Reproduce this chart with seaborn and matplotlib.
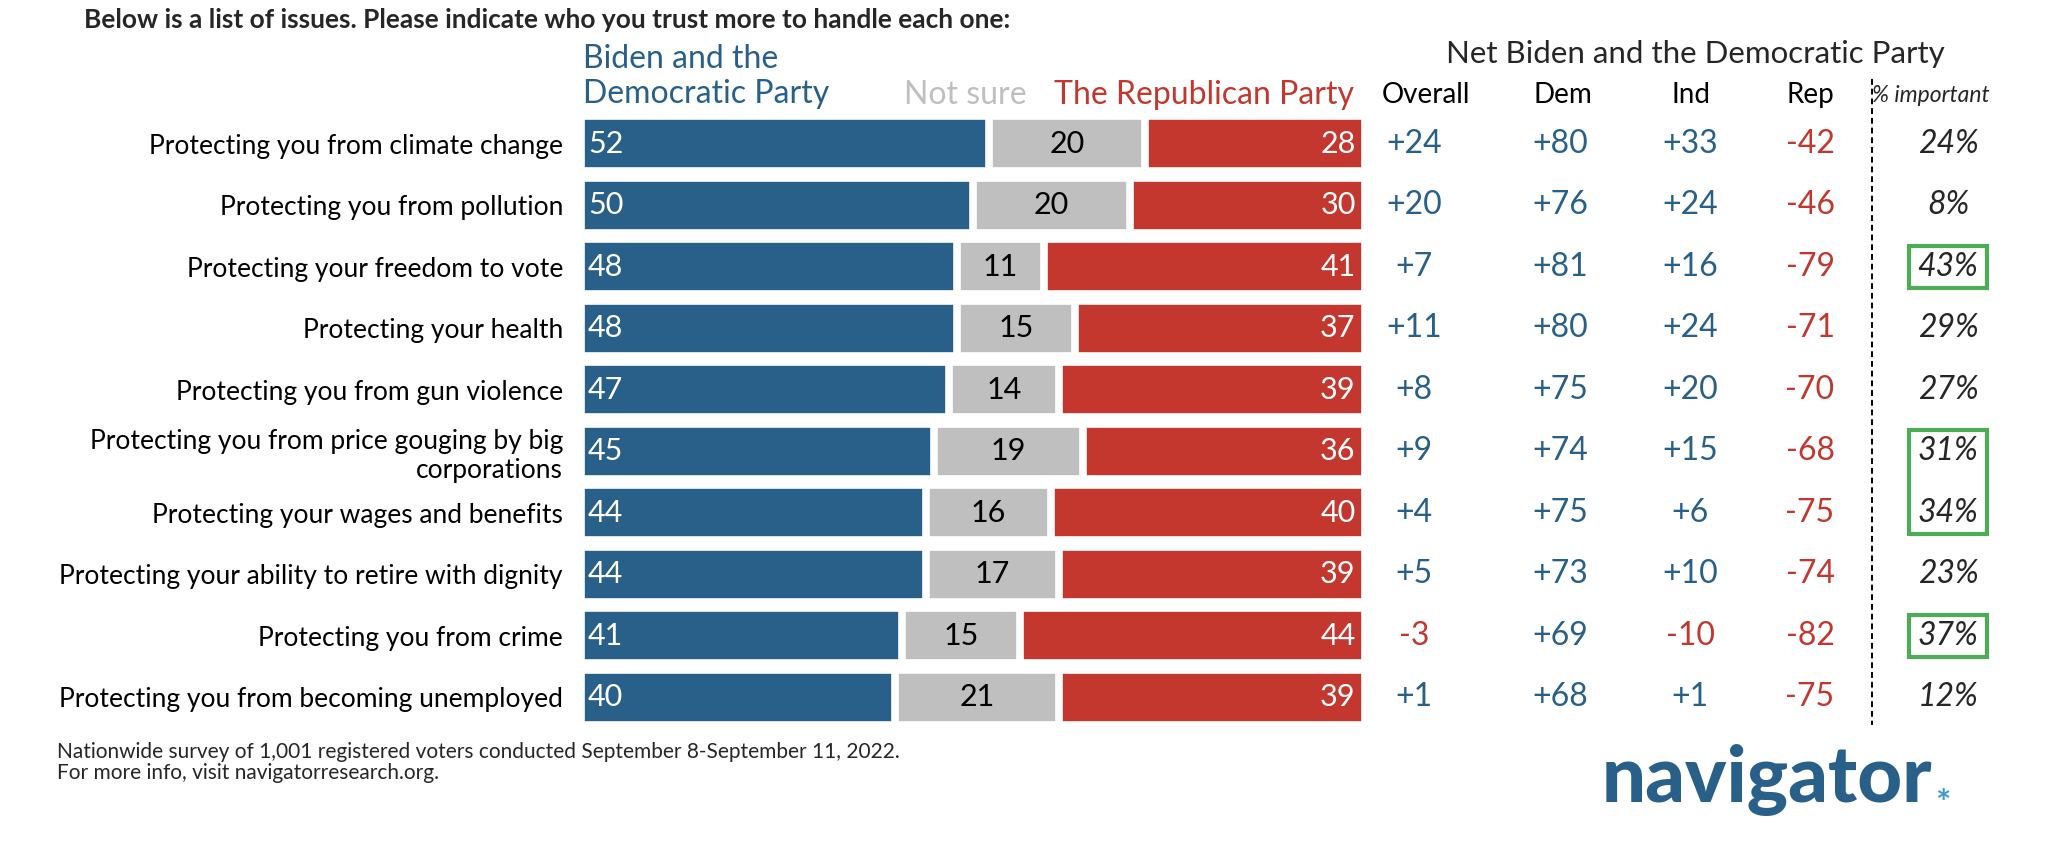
import matplotlib
matplotlib.use('Agg')
import matplotlib.pyplot as plt
import matplotlib.transforms as mtransforms
from matplotlib.patches import Rectangle
import seaborn as sns
import pandas as pd

issues = ['Protecting you from climate change',
          'Protecting you from pollution',
          'Protecting your freedom to vote',
          'Protecting your health',
          'Protecting you from gun violence',
          'Protecting you from price gouging by big\ncorporations',
          'Protecting your wages and benefits',
          'Protecting your ability to retire with dignity',
          'Protecting you from crime',
          'Protecting you from becoming unemployed']
biden = [52, 50, 48, 48, 47, 45, 44, 44, 41, 40]
not_sure = [20, 20, 11, 15, 14, 19, 16, 17, 15, 21]
republican = [28, 30, 41, 37, 39, 36, 40, 39, 44, 39]

net_overall = [24, 20, 7, 11, 8, 9, 4, 5, -3, 1]
net_dem = [80, 76, 81, 80, 75, 74, 75, 73, 69, 68]
net_ind = [33, 24, 16, 24, 20, 15, 6, 10, -10, 1]
net_rep = [-42, -46, -79, -71, -70, -68, -75, -74, -82, -75]
pct_important = [24, 8, 43, 29, 27, 31, 34, 23, 37, 12]
# groups of rows boxed in green (first row, last row)
boxed = [(2, 2), (5, 6), (8, 8)]

BLUE = '#28608a'
RED = '#c3372f'
GRAY = '#bfbfbf'
GREEN = '#4cad55'

sns.set_theme(style='white')
plt.rcParams['font.family'] = ['Lato', 'DejaVu Sans']

df = pd.DataFrame({'issue': issues, 'biden': biden, 'not_sure': not_sure, 'rep': republican})
df['mid'] = df['biden'] + df['not_sure']
df['total'] = df['mid'] + df['rep']

fig = plt.figure(figsize=(20.48, 8.5), dpi=100)
ax = fig.add_axes([581 / 2048, 0.1435, 784 / 2048, 0.7235])

# stacked bars: draw the longest first, then shorter ones on top
for col, colr in [('total', RED), ('mid', GRAY), ('biden', BLUE)]:
    sns.barplot(data=df, x=col, y='issue', orient='h', color=colr, width=0.9,
                edgecolor='white', linewidth=5.5, saturation=1, ax=ax)

ax.set_xlim(0, 100)
ax.set_ylim(9.5, -0.5)
ax.set_xlabel('')
ax.set_ylabel('')
ax.set_xticks([])
sns.despine(ax=ax, left=True, bottom=True)
ax.tick_params(axis='y', length=0, pad=13, labelsize=19, labelcolor='black')

for i in range(len(issues)):
    ax.text(0.9, i, str(biden[i]), color='white', fontsize=22, va='center', ha='left')
    ax.text(biden[i] + not_sure[i] / 2, i, str(not_sure[i]), color='black', fontsize=22,
            va='center', ha='center')
    ax.text(98.8, i, str(republican[i]), color='white', fontsize=22, va='center', ha='right')

# series headers above the bars
ax.text(0.3, -1.09, 'Biden and the\nDemocratic Party', color=BLUE, fontsize=23,
        ha='left', va='center', linespacing=1.2)
ax.text(49, -0.8, 'Not sure', color=GRAY, fontsize=23, ha='center', va='center')
ax.text(98.6, -0.8, 'The Republican Party', color=RED, fontsize=23, ha='right', va='center')

# right-hand table, figure x / data y
tr = mtransforms.blended_transform_factory(fig.transFigure, ax.transData)
cols = [(1426, 1414, 'Overall', net_overall), (1563, 1560, 'Dem', net_dem),
        (1691, 1690, 'Ind', net_ind), (1810, 1810, 'Rep', net_rep)]
for hpx, xpx, head, vals in cols:
    ax.text(hpx / 2048, -0.79, head, transform=tr, ha='center', va='center', fontsize=20,
            color='black', clip_on=False)
    for i, v in enumerate(vals):
        ax.text(xpx / 2048, i, f'{v:+d}', transform=tr, ha='center', va='center',
                fontsize=23, color=BLUE if v > 0 else RED, clip_on=False)

ax.text(1931 / 2048, -0.79, '% important', transform=tr, ha='center', va='center',
        fontsize=16.5, style='italic', clip_on=False)
for i, v in enumerate(pct_important):
    ax.text(1948 / 2048, i, f'{v}%', transform=tr, ha='center', va='center', fontsize=23,
            style='italic', clip_on=False)

for a, b in boxed:
    ax.add_patch(Rectangle((1909 / 2048, a - 0.34), 78 / 2048, b - a + 0.68, transform=tr,
                           fill=False, edgecolor=GREEN, linewidth=3, clip_on=False))

ax.plot([1872 / 2048, 1872 / 2048], [-1.05, 9.45], transform=tr, color='black',
        linestyle=(0, (3, 2)), linewidth=1.4, clip_on=False)

fig.text(1695 / 2048, 1 - 54 / 850, 'Net Biden and the Democratic Party', ha='center',
         va='center', fontsize=22.5)
fig.text(84 / 2048, 1 - 20 / 850, 'Below is a list of issues. Please indicate who you trust more to handle each one:',
         ha='left', va='center', fontsize=18.9, fontweight='bold')
fig.text(57 / 2048, 1 - 752 / 850,
         'Nationwide survey of 1,001 registered voters conducted September 8-September 11, 2022.',
         ha='left', va='center', fontsize=15)
fig.text(57 / 2048, 1 - 773 / 850, 'For more info, visit navigatorresearch.org.',
         ha='left', va='center', fontsize=15)
fig.text(1602 / 2048, 1 - 780 / 850, 'navigator', ha='left', va='center', fontsize=56,
         fontweight='black', color=BLUE)
fig.text(1943 / 2048, 1 - 805 / 850, '*', ha='center', va='center', fontsize=26,
         fontweight='bold', color='#3c9ad2')

fig.savefig('out.png', dpi=100)
